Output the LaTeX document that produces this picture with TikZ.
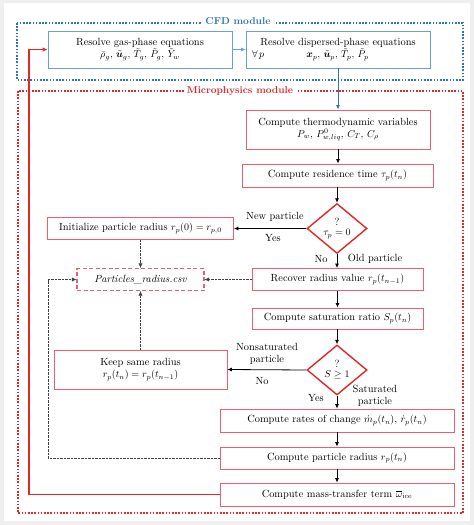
\documentclass[tikz,border=0pt]{standalone}
\usepackage[rgb]{xcolor}
\usepackage{bm}
\usepackage{tikz}
\usetikzlibrary{math}
\usetikzlibrary{shapes.geometric}
\usetikzlibrary{arrows.meta}
\definecolor{cfdblue}{HTML}{2e75b6}
\definecolor{boxblue}{HTML}{6a9fd8}
\definecolor{microred}{HTML}{e02828}
\definecolor{boxred}{HTML}{e8606e}
\definecolor{frame-color}{HTML}{efefef}

\begin{document}
\begin{tikzpicture}[
    x=1pt, y=-1pt,
    font=\fontsize{10.4}{12}\selectfont,
    bluebox/.style={draw=boxblue, thick, fill=white, align=center, inner sep=2pt},
    redbox/.style={draw=boxred, thick, fill=white, align=center, inner sep=2pt},
    decision/.style={diamond, draw=microred, line width=1.4pt, fill=white, align=center,
        inner sep=0pt, aspect=1.2, minimum width=60pt, minimum height=50pt},
    flow/.style={-{Latex[length=4.5pt,width=4pt]}, thick},
    fileflow/.style={-{Latex[length=4.5pt,width=4pt]}, densely dotted, black!75},
    module/.style={line width=1.6pt, dash pattern=on 1.6pt off 1.6pt},
    tag/.style={inner sep=1pt},
    ]

% Position settings
\tikzmath{
    % Columns
    \xleft = 140.5;
    \xright = 337.5;
    % Rows
    \ycfd = 49.5;
    \ythermo = 129.5;
    \yresid = 175.5;
    \ynew = 228.5;
    \ycsv = 279.5;
    \ysat = 318.5;
    \ykeep = 369.5;
    \yrates = 420.5;
    \yradius = 458;
    \ymass = 494.5;
}

% Page and frame
\useasboundingbox (0,0) rectangle (474,525);
\fill[frame-color] (0,0) rectangle (474,525);
\fill[white] (4,3) rectangle (470,521);

% Module frames
\draw[cfdblue,module] (17,23) rectangle (463,80);
\draw[microred,module] (18,91) rectangle (463,513);
\node[fill=white, text=cfdblue, font=\bfseries, inner sep=3pt] (cfdlabel) at (238,21) {CFD module};
\node[fill=white, text=microred, font=\bfseries, inner sep=3pt] (micrlabel) at (240,91) {Microphysics module};

% CFD module boxes
\node[bluebox, minimum width=184pt, minimum height=37pt] (gas) at (140,\ycfd)
    {Resolve gas-phase equations\\ $\bar{\rho}_g,\, \tilde{\bm{u}}_g,\, \tilde{T}_g,\, \tilde{P}_g,\, \tilde{Y}_w$};
\node[bluebox, minimum width=184pt, minimum height=37pt] (disp) at (338,\ycfd)
    {Resolve dispersed-phase equations\\ \makebox[172pt][l]{$\forall\, p$\hspace{42pt}$\bm{x}_p,\, \tilde{\bm{u}}_p,\, \tilde{T}_p,\, \tilde{P}_p$}};

% Microphysics boxes
\node[redbox, minimum width=184pt, minimum height=39pt] (thermo) at (338,\ythermo)
    {Compute thermodynamic variables\\ $P_w$, $P^0_{w,liq}$, $C_T$, $C_\rho$};
\node[redbox, minimum width=191pt, minimum height=23pt] (resid) at (\xright,\yresid)
    {Compute residence time $\tau_p(t_n)$};
\node[decision] (newq) at (337,\ynew) {?\\[-2pt] $\tau_p = 0$};
\node[redbox, minimum width=186pt, minimum height=22pt] (initbox) at (\xleft,\ynew)
    {Initialize particle radius $r_p(0) = r_{p,0}$};
\node[draw=boxred, line width=1.2pt, dash pattern=on 4pt off 2.5pt, fill=white,
    minimum width=127pt, minimum height=22pt] (csv) at (\xleft,\ycsv)
    {\textit{Particles\_radius.csv}};
\node[redbox, minimum width=171pt, minimum height=22pt] (recover) at (\xright,\ycsv)
    {Recover radius value $r_p(t_{n-1})$};
\node[redbox, minimum width=171pt, minimum height=21pt] (satur) at (\xright,\ysat)
    {Compute saturation ratio $S_p(t_n)$};
\node[decision] (satq) at (337,370) {?\\[-2pt] $S \geq 1$};
\node[redbox, minimum width=173pt, minimum height=39pt] (keep) at (\xleft,\ykeep)
    {Keep same radius\\ $r_p(t_n) = r_p(t_{n-1})$};
\node[redbox, minimum width=234pt, minimum height=23pt] (rates) at (337,\yrates)
    {Compute rates of change $\dot{m}_p(t_n)$, $\dot{r}_p(t_n)$};
\node[redbox, minimum width=234pt, minimum height=22pt] (radius) at (337,\yradius)
    {Compute particle radius $r_p(t_n)$};
\node[redbox, minimum width=234pt, minimum height=23pt] (mass) at (337,\ymass)
    {Compute mass-transfer term $\overline{\omega}_{\mathrm{ice}}$};

% Main flow
\draw[flow, boxblue] (gas.east) -- (disp.west);
\draw[flow, cfdblue] (disp.south -| thermo.north) -- (thermo.north);
\draw[flow] (thermo.south) -- (resid.north -| thermo.south);
\draw[flow] (resid.south -| newq.north) -- (newq.north);
\draw[flow] (newq.west) -- (initbox.east);
\draw[flow] (newq.south) -- (recover.north -| newq.south);
\draw[flow] (recover.south -| satur.north) -- (satur.north);
\draw[flow] (satur.south -| satq.north) -- (satq.north);
\draw[flow] (satq.west) -- (keep.east);
\draw[flow] (satq.south) -- (rates.north -| satq.south);
\draw[flow] (rates.south) -- (radius.north);
\draw[flow] (radius.south) -- (mass.north);

% Branch labels
\node[tag] (newlbl) at (275,217) {New particle};
\node[tag] (yes1) at (273,238) {Yes};
\node[tag] (no1) at (321,259) {No};
\node[tag] (oldlbl) at (375,259) {Old particle};
\node[tag, align=center] (nonsat) at (267,354) {Nonsaturated\\ particle};
\node[tag] (no2) at (262,381) {No};
\node[tag, align=center] (sat) at (375,396) {Saturated\\ particle};
\node[tag] (yes2) at (316,398) {Yes};

% File exchanges
\coordinate (back) at (48,\yradius);
\draw[fileflow] (initbox.south) -- (csv.north);
\draw[fileflow] (recover.west) -- (csv.east);
\draw[fileflow] (keep.north) -- (csv.south);
\draw[fileflow] (radius.west) -- (back) |- (csv.west);

% Feedback to CFD module
\coordinate (loop) at (29,\ymass);
\draw[microred, line width=1.4pt, -{Latex[length=5pt,width=4.5pt]}] (mass.west) -- (loop) |- (gas.west);

\end{tikzpicture}
\end{document}
